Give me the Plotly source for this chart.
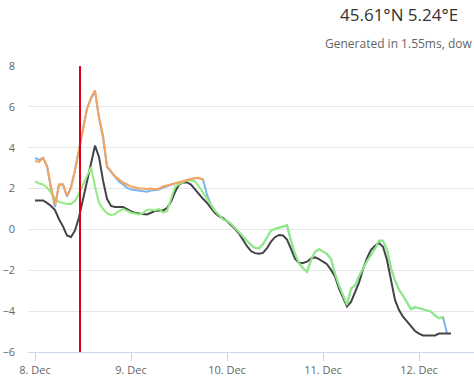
import pandas as pd
import plotly.graph_objects as go

start = "2023-12-08 00:00"

orange = [3.35, 3.3, 3.5, 3.1, 2.1, 1.2, 2.2, 2.2, 1.65, 2.05, 2.9, 3.9, 5.0, 5.9, 6.45, 6.8,
          5.5, 4.6, 3.1, 2.85, 2.6, 2.45, 2.3, 2.2, 2.1, 2.05, 2.0, 2.0, 1.98, 2.0, 1.97, 2.0,
          2.1, 2.15, 2.2, 2.25, 2.3, 2.35, 2.42, 2.48, 2.52, 2.53, 2.42]

blue = [3.5, 3.4, 3.5, 3.1, 2.0, 1.1, 2.2, 2.2, 1.6, 2.05, 2.9, 3.85, 4.9, 5.9, 6.4, 6.75,
        5.45, 4.5, 3.05, 2.8, 2.55, 2.35, 2.2, 2.05, 1.95, 1.92, 1.9, 1.88, 1.85, 1.9, 1.92, 1.95,
        2.05, 2.12, 2.2, 2.25, 2.3, 2.35, 2.42, 2.48, 2.5, 2.5, 2.45, 1.7,
        1.2, 0.9, 0.7, 0.5, 0.42, 0.27, 0.07, -0.12, -0.35, -0.56, -0.76, -0.9, -0.93, -0.72,
        -0.35, -0.05, 0.02, 0.08, 0.17, 0.2, -0.55, -1.2, -1.65, -1.9, -2.07, -1.5, -1.1, -0.97,
        -1.08, -1.2, -1.45, -2.17, -2.75, -3.25, -3.7, -2.9, -2.74, -2.3, -1.9, -1.55, -1.25,
        -0.94, -0.55, -0.55, -1.0, -1.9, -2.5, -2.95, -3.25, -3.6, -3.9, -3.8, -3.85, -3.92,
        -3.96, -4.02, -4.21, -4.35, -4.3, -5.07]

green = [2.35, 2.25, 2.2, 2.05, 1.8, 1.5, 1.35, 1.3, 1.25, 1.25, 1.4, 1.75, 2.2, 2.65, 3.05, 2.1,
         1.3, 1.0, 0.8, 0.7, 0.75, 0.9, 1.0, 0.92, 0.82, 0.78, 0.73, 0.8, 0.96, 0.96, 0.93, 1.0,
         0.82, 0.9, 1.5, 2.07, 2.22, 2.3, 2.4, 2.4, 2.35, 2.1, 1.8, 1.5,
         1.2, 0.9, 0.7, 0.5, 0.42, 0.27, 0.07, -0.12, -0.35, -0.56, -0.76, -0.9, -0.93, -0.72,
         -0.35, -0.05, 0.02, 0.08, 0.17, 0.2, -0.55, -1.2, -1.65, -1.9, -2.07, -1.5, -1.1, -0.97,
         -1.08, -1.2, -1.45, -2.17, -2.75, -3.25, -3.7, -2.9, -2.74, -2.3, -1.9, -1.55, -1.25,
         -0.94, -0.55, -0.55, -1.0, -1.9, -2.5, -2.95, -3.25, -3.6, -3.9, -3.8, -3.85, -3.92,
         -3.96, -4.02, -4.21, -4.35, -4.3]

black = [1.42, 1.42, 1.42, 1.3, 1.15, 0.95, 0.5, 0.15, -0.3, -0.37, -0.05, 0.6, 1.45, 2.4, 3.3, 4.1,
         3.55, 2.4, 1.5, 1.15, 1.1, 1.1, 1.1, 1.0, 0.88, 0.82, 0.77, 0.75, 0.73, 0.8, 0.9, 0.93,
         0.93, 1.05, 1.35, 1.83, 2.2, 2.3, 2.3, 2.2, 1.95, 1.7, 1.5, 1.3, 1.05, 0.8, 0.65, 0.55,
         0.4, 0.22, 0.03, -0.2, -0.52, -0.82, -1.06, -1.16, -1.19, -1.15, -0.92, -0.6, -0.38,
         -0.27, -0.3, -0.5, -0.95, -1.43, -1.63, -1.64, -1.58, -1.42, -1.37, -1.45, -1.58, -1.7,
         -1.98, -2.3, -2.9, -3.35, -3.77, -3.55, -3.1, -2.6, -1.95, -1.4, -1.0, -0.8, -0.67,
         -0.85, -1.5, -2.5, -3.45, -3.95, -4.27, -4.5, -4.75, -4.97, -5.1, -5.19, -5.19, -5.19,
         -5.19, -5.1, -5.1, -5.1, -5.1]

now_marker = "2023-12-08 11:15"
tick_vals = ["2023-12-08", "2023-12-09", "2023-12-10", "2023-12-11", "2023-12-12"]
tick_text = ["8. Dec", "9. Dec", "10. Dec", "11. Dec", "12. Dec"]
y_ticks = [8, 6, 4, 2, 0, -2, -4, -6]

def times(n):
    return pd.date_range(start, periods=n, freq="h")

fig = go.Figure()
for vals, col in [(blue, "#7cb5ec"), (black, "#434348"), (green, "#90ed7d"), (orange, "#f7a35c")]:
    fig.add_trace(go.Scatter(x=times(len(vals)), y=vals, mode="lines",
                             line=dict(color=col, width=2), showlegend=False))

fig.add_shape(type="line", xref="x", yref="paper", x0=now_marker, x1=now_marker, y0=0, y1=1,
              line=dict(color="#e0001a", width=2))

fig.update_layout(
    width=474, height=379,
    margin=dict(l=28, r=0, t=66, b=27, autoexpand=False),
    paper_bgcolor="white", plot_bgcolor="white",
    font=dict(family="Open Sans, sans-serif", color="#666666", size=11),
    showlegend=False,
    annotations=[
        dict(text="45.61°N 5.24°E", xref="paper", yref="paper", x=(338 - 28) / 446, y=1,
             yshift=52, xanchor="left", yanchor="middle", showarrow=False,
             font=dict(size=17, color="#333333")),
        dict(text="Generated in 1.55ms, dow", xref="paper", yref="paper", x=(323 - 28) / 446, y=1,
             yshift=23, xanchor="left", yanchor="middle", showarrow=False,
             font=dict(size=12, color="#666666")),
    ],
)
fig.update_xaxes(
    range=["2023-12-07 22:15", "2023-12-12 13:45"],
    tickvals=tick_vals, ticktext=tick_text, automargin=False,
    showgrid=False, showline=True, linecolor="#ccd6eb", linewidth=1,
    ticks="outside", ticklen=8, tickcolor="#ccd6eb", zeroline=False,
)
fig.update_yaxes(
    range=[-6, 8], tickvals=y_ticks, showgrid=True, gridcolor="#e6e6e6", automargin=False,
    zeroline=False, showline=False, ticklabelstandoff=12,
)

fig.write_html("out.html", config={"displayModeBar": False},
               post_script="document.body.style.margin='0';")
